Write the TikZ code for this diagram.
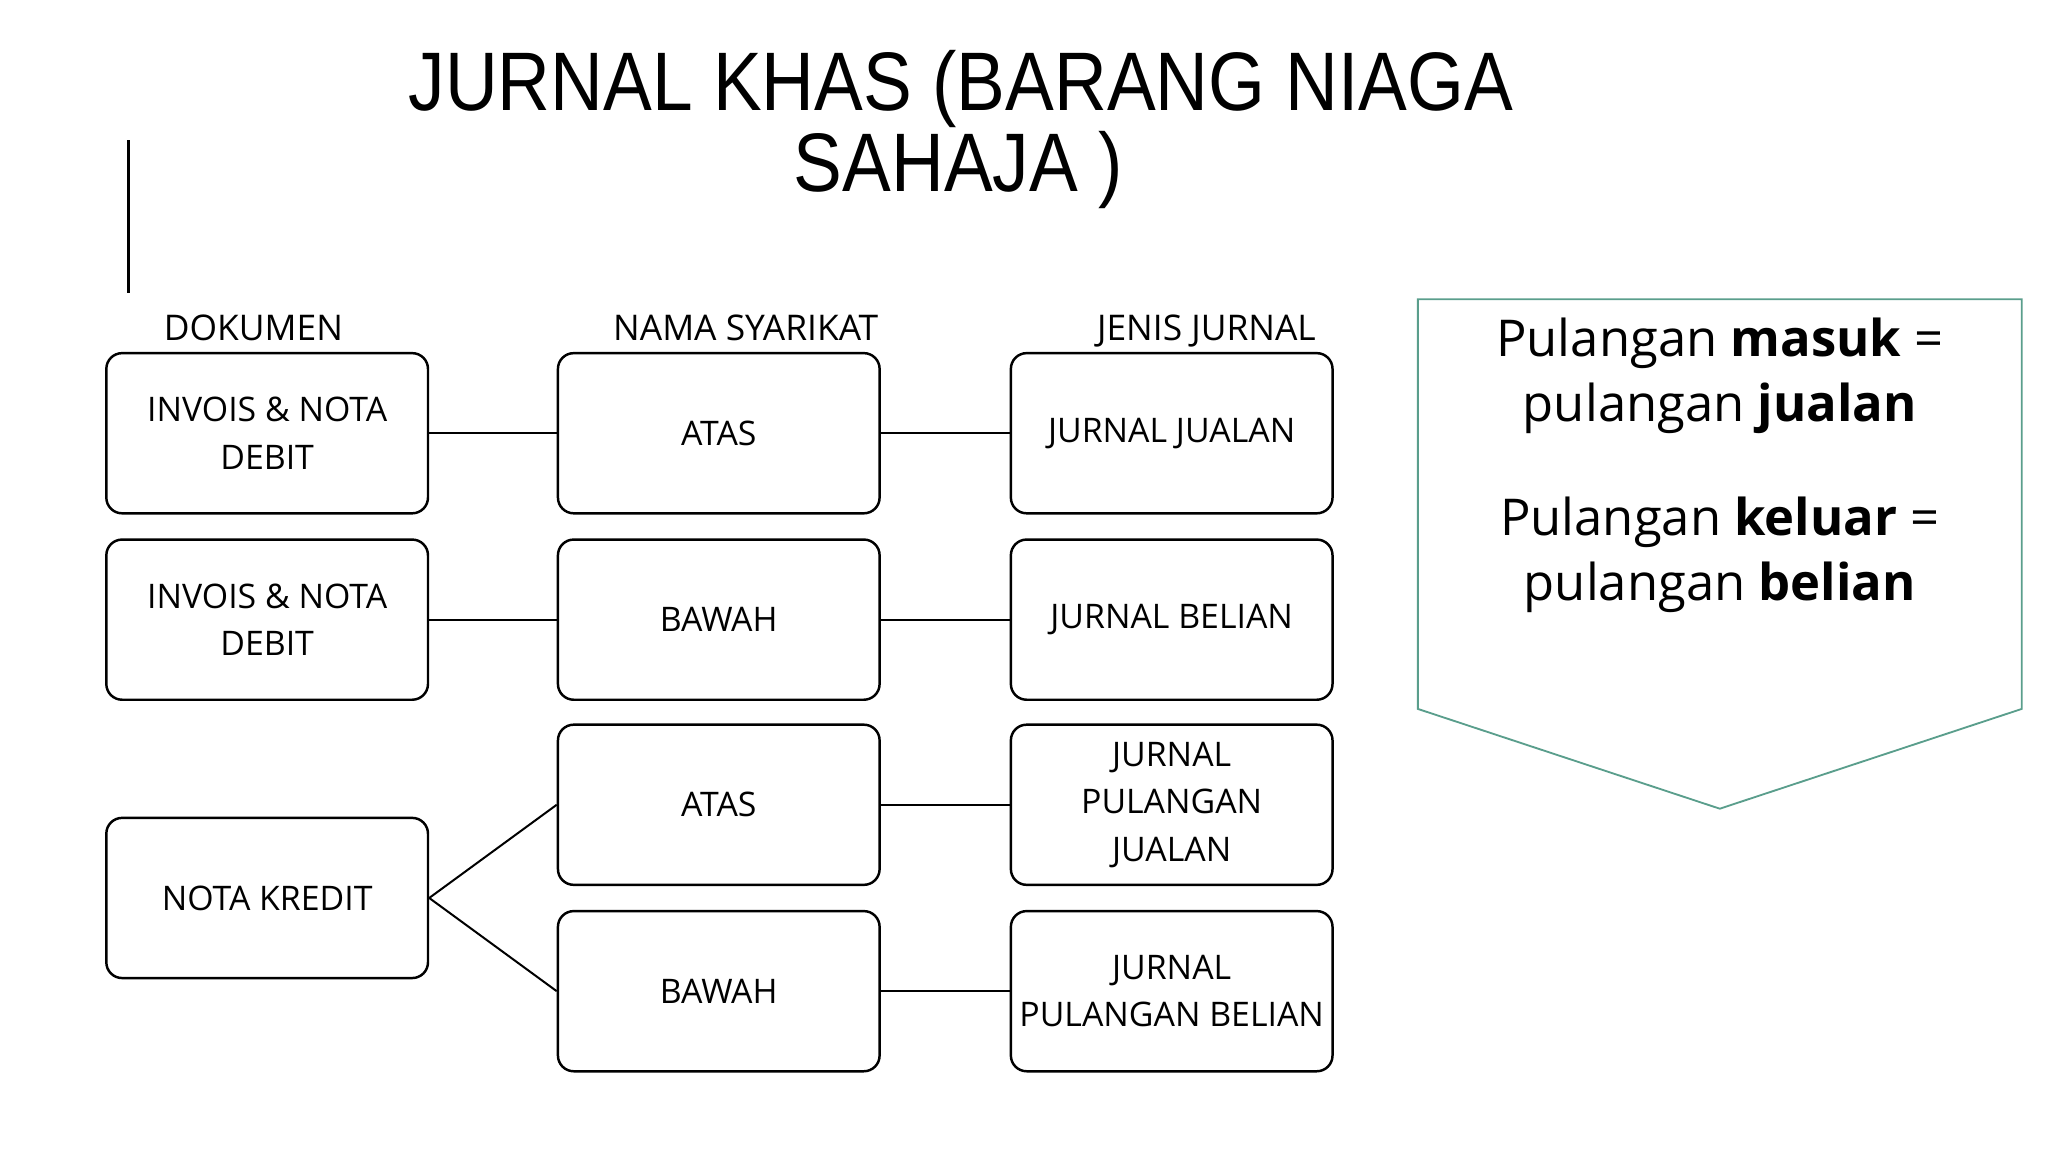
\documentclass[tikz,border=0pt]{standalone}
\usepackage{fontspec}
\setmainfont{Open Sans}
\newfontfamily\titlefont{Liberation Sans}[FakeStretch=0.88]
\begin{document}
\begin{tikzpicture}[x=0.03cm,y=-0.03cm,
  box/.style={draw,line width=1.6pt,rounded corners=0.36cm,minimum width=7.35cm,minimum height=3.66cm,align=center,font=\fontsize{22}{31}\selectfont,inner sep=0pt},
  hdr/.style={font=\fontsize{23}{27}\selectfont,anchor=base},
  con/.style={line width=1.3pt}]
\useasboundingbox (0,0) rectangle (1560,878);
\node[font=\titlefont\fontsize{54}{58}\selectfont,anchor=base] (t1) at (732,84) {JURNAL KHAS (BARANG NIAGA};
\node[font=\titlefont\fontsize{54}{58}\selectfont,anchor=base] (t2) at (730,146) {SAHAJA )};
\coordinate (v1) at (98,107); \coordinate (v2) at (98,223);
\draw[line width=2pt] (v1)--(v2);
\node[hdr] (h1) at (193,259) {DOKUMEN};
\node[hdr] (h2) at (568,259) {NAMA SYARIKAT};
\node[hdr] (h3) at (919,259) {JENIS JURNAL};
\node[box] (a1) at (203.5,330) {INVOIS \& NOTA\\DEBIT};
\node[box] (a2) at (203.5,472) {INVOIS \& NOTA\\DEBIT};
\node[box] (a3) at (203.5,684) {NOTA KREDIT};
\node[box] (b1) at (547.5,330) {ATAS};
\node[box] (b2) at (547.5,472) {BAWAH};
\node[box] (b3) at (547.5,613) {ATAS};
\node[box] (b4) at (547.5,755) {BAWAH};
\node[box] (c1) at (892.5,330) {JURNAL JUALAN};
\node[box] (c2) at (892.5,472) {JURNAL BELIAN};
\node[box] (c3) at (892.5,613) {JURNAL\\PULANGAN\\JUALAN};
\node[box] (c4) at (892.5,755) {JURNAL\\PULANGAN BELIAN};
\draw[con] (a1)--(b1) (b1)--(c1) (a2)--(b2) (b2)--(c2) (b3)--(c3) (b4)--(c4);
\draw[con] (a3.east)--(b3.west) (a3.east)--(b4.west);
\coordinate (p1) at (1080,228); \coordinate (p2) at (1540,228); \coordinate (p3) at (1540,540);
\coordinate (p4) at (1310,616); \coordinate (p5) at (1080,540);
\draw[color={rgb,255:red,90;green,158;blue,140},line width=1.2pt] (p1)--(p2)--(p3)--(p4)--(p5)--cycle;
\node[font=\fontsize{33}{42}\selectfont,align=center,anchor=north] (txt) at (1310,238)
 {Pulangan \textbf{masuk} =\\pulangan \textbf{jualan}\\[1.15cm]Pulangan \textbf{keluar} =\\pulangan \textbf{belian}};
\end{tikzpicture}
\end{document}
